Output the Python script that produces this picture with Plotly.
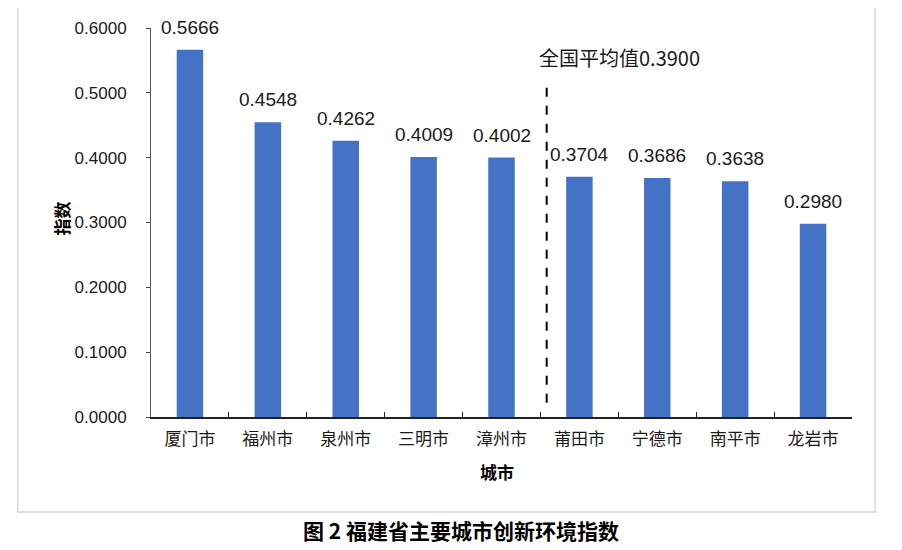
import plotly.graph_objects as go

cities = ["厦门市", "福州市", "泉州市", "三明市", "漳州市", "莆田市", "宁德市", "南平市", "龙岩市"]
index_values = [0.5666, 0.4548, 0.4262, 0.4009, 0.4002, 0.3704, 0.3686, 0.3638, 0.2980]
national_avg = 0.3900
y_ticks = [0.0, 0.1, 0.2, 0.3, 0.4, 0.5, 0.6]

FONT = "Liberation Sans, Noto Sans CJK SC, sans-serif"
CJK = "Noto Sans CJK SC"
n_above = sum(1 for v in index_values if v > national_avg)
line_x = n_above - 0.5 + 0.08

fig = go.Figure()
fig.add_trace(go.Bar(
    x=cities, y=index_values,
    marker=dict(color="#4472C4", line=dict(width=0)),
    width=0.34,
    hoverinfo="x+y",
))

# value labels above bars
for c, v in zip(cities, index_values):
    fig.add_annotation(xref="x", yref="y", x=c, y=v, text=f"{v:.4f}",
                       yanchor="bottom", yshift=10, showarrow=False,
                       font=dict(size=19, family=FONT, color="#1a1a1a"))

# page body has an 8px margin, so the figure is 894x542 drawn at (8, 8)
fig.update_layout(
    width=894, height=542,
    margin=dict(l=143, r=50, t=20, b=133, autoexpand=False),
    paper_bgcolor="white", plot_bgcolor="white",
    font=dict(family=FONT, color="#222222"),
    showlegend=False,
    xaxis=dict(
        type="category", tickson="boundaries", ticks="inside", ticklen=5,
        tickcolor="#222222", showline=True, linecolor="#222222", linewidth=1.5,
        tickfont=dict(size=17, family=CJK, color="#1a1a1a"), showgrid=False,
        ticklabelstandoff=6, automargin=False,
    ),
    yaxis=dict(
        range=[0, 0.6], tickvals=y_ticks, tickformat=".4f",
        ticks="outside", ticklen=4, tickcolor="#444444",
        showline=True, linecolor="#555555", linewidth=1, showgrid=False,
        zeroline=False, tickfont=dict(size=17, color="#1a1a1a"), ticklabelstandoff=16,
        automargin=False,
    ),
)

# dashed national average separator
fig.add_shape(type="line", xref="x", yref="y", x0=line_x, x1=line_x,
              y0=0.508, y1=0.01, line=dict(color="black", width=2, dash="dash"))
fig.add_annotation(xref="x", yref="y", x=line_x - 0.12, y=0.555, xanchor="left",
                   yanchor="middle",
                   text=f"全国平均值{national_avg:.4f}", showarrow=False,
                   font=dict(size=20, family=CJK, color="#1a1a1a"))

# outer border
fig.add_shape(type="rect", xref="paper", yref="paper", x0=-0.19, x1=1.033,
              y0=-0.244, y1=1.059, line=dict(color="#d9d9d9", width=1.5),
              fillcolor="rgba(0,0,0,0)", layer="below")

# axis titles
fig.add_annotation(xref="paper", yref="paper", x=0.494, y=-0.139, text="<b>城市</b>",
                   xanchor="center", yanchor="middle",
                   showarrow=False, font=dict(size=17, family=CJK, color="black"))
fig.add_annotation(xref="paper", yref="paper", x=-0.127, y=0.51, text="<b>指数</b>",
                   xanchor="center", yanchor="middle",
                   textangle=-90, showarrow=False,
                   font=dict(size=17, family=CJK, color="black"))
# caption
fig.add_annotation(xref="paper", yref="paper", x=0.442, y=-0.291, text="<b>图 2 福建省主要城市创新环境指数</b>",
                   xanchor="center", yanchor="middle",
                   showarrow=False, font=dict(size=21, family=CJK, color="black"))

fig.write_html("out.html")
